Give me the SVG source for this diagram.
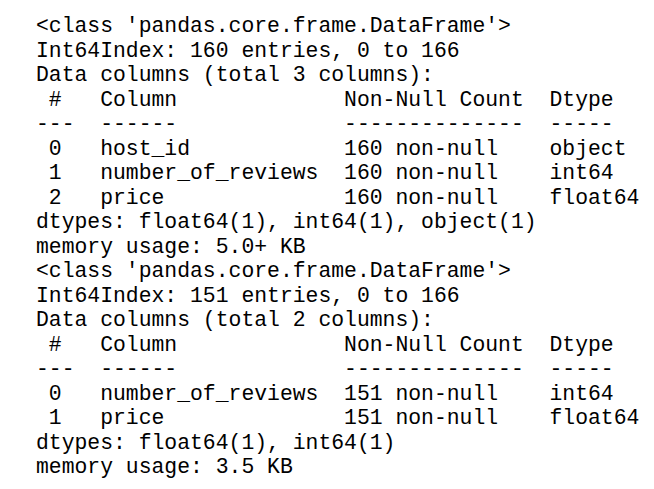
<svg xmlns="http://www.w3.org/2000/svg" width="654" height="489" viewBox="0 0 654 489">
<style>text{font-family:"Liberation Mono","DejaVu Sans Mono",monospace;font-size:21.4px;fill:#000;white-space:pre}</style>
<rect width="654" height="489" fill="#fff"/>
<g xml:space="preserve">
<text x="36" y="32">&lt;class 'pandas.core.frame.DataFrame'&gt;</text>
<text x="36" y="56.5">Int64Index: 160 entries, 0 to 166</text>
<text x="36" y="81">Data columns (total 3 columns):</text>
<text x="36" y="105.5"> #   Column             Non-Null Count  Dtype</text>
<text x="36" y="130">---  ------             --------------  -----</text>
<text x="36" y="154.5"> 0   host_id            160 non-null    object</text>
<text x="36" y="179"> 1   number_of_reviews  160 non-null    int64</text>
<text x="36" y="203.5"> 2   price              160 non-null    float64</text>
<text x="36" y="228">dtypes: float64(1), int64(1), object(1)</text>
<text x="36" y="252.5">memory usage: 5.0+ KB</text>
<text x="36" y="277">&lt;class 'pandas.core.frame.DataFrame'&gt;</text>
<text x="36" y="301.5">Int64Index: 151 entries, 0 to 166</text>
<text x="36" y="326">Data columns (total 2 columns):</text>
<text x="36" y="350.5"> #   Column             Non-Null Count  Dtype</text>
<text x="36" y="375">---  ------             --------------  -----</text>
<text x="36" y="399.5"> 0   number_of_reviews  151 non-null    int64</text>
<text x="36" y="424"> 1   price              151 non-null    float64</text>
<text x="36" y="448.5">dtypes: float64(1), int64(1)</text>
<text x="36" y="473">memory usage: 3.5 KB</text>
</g>
</svg>
